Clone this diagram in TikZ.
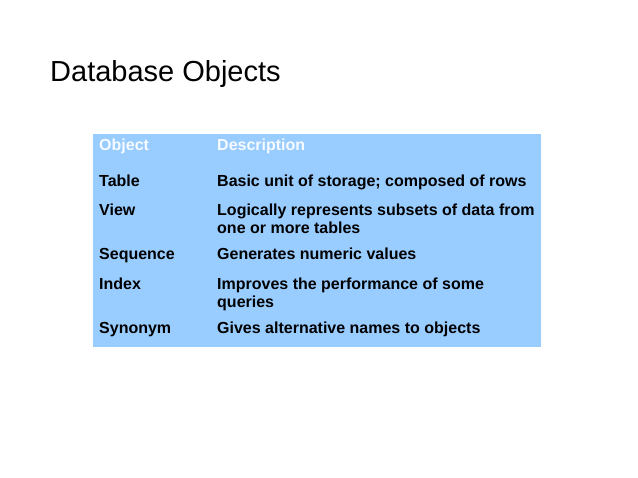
\documentclass[tikz,border=0pt]{standalone}
\usepackage{fontspec}
\setmainfont{Liberation Sans}
\definecolor{tbl}{HTML}{99CCFF}
\begin{document}
\begin{tikzpicture}[x=1pt,y=-1pt,
  cell/.style={anchor=north west,inner sep=0pt,font=\fontsize{16}{18}\selectfont\bfseries,align=left},
  head/.style={cell,text=white!92!tbl}]
\useasboundingbox (0,0) rectangle (638,478);
\node[anchor=base west,inner sep=0pt,font=\fontsize{29}{32}\selectfont] (title) at (50,82) {Database Objects};
\fill[tbl] (93,134) rectangle (541,347);
\node[head] (h1) at (99,139) {Object};
\node[head] (h2) at (217,139) {Description};
\node[cell] (o1) at (99,175) {Table};
\node[cell] (d1) at (217,175) {Basic unit of storage; composed of rows};
\node[cell] (o2) at (99,204) {View};
\node[cell] (d2) at (217,204) {Logically represents subsets of data from\\one or more tables};
\node[cell] (o3) at (99,248) {Sequence};
\node[cell] (d3) at (217,248) {Generates numeric values};
\node[cell] (o4) at (99,278) {Index};
\node[cell] (d4) at (217,278) {Improves the performance of some\\queries};
\node[cell] (o5) at (99,322) {Synonym};
\node[cell] (d5) at (217,322) {Gives alternative names to objects};
\end{tikzpicture}
\end{document}
